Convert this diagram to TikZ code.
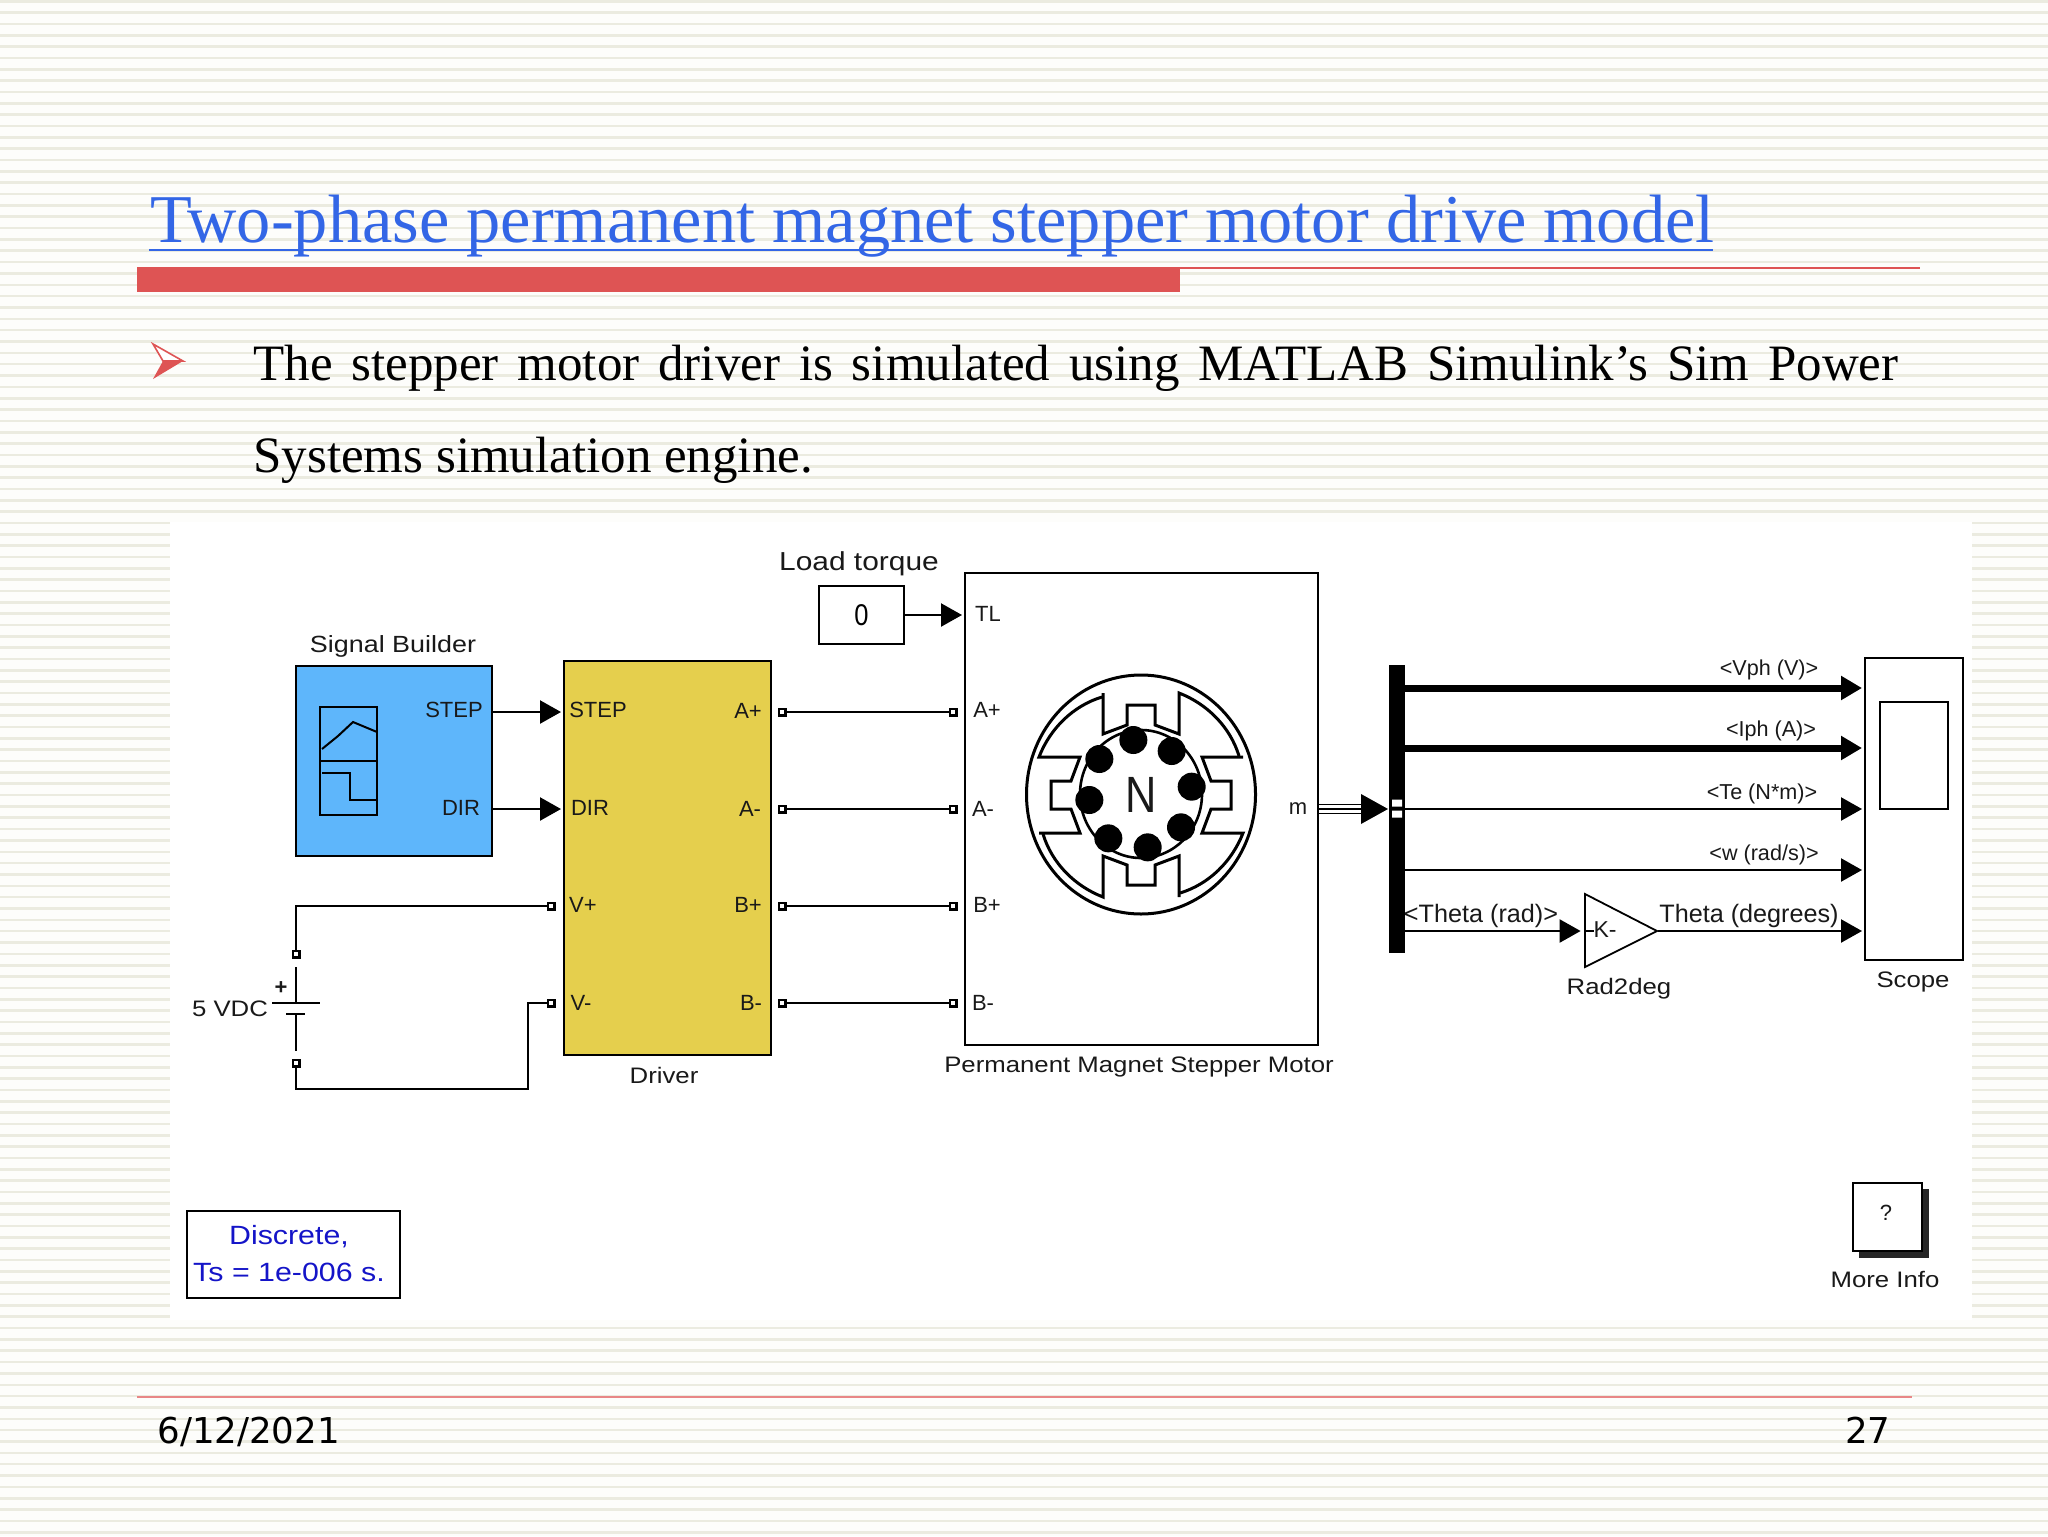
\documentclass[tikz,border=0pt]{standalone}
\usepackage{fontspec}
\usetikzlibrary{arrows.meta}
\setmainfont{Liberation Serif}
\newfontfamily\lab{Liberation Sans}
\newfontfamily\labw[FakeStretch=1.15]{Liberation Sans}
\newfontfamily\labn[FakeStretch=0.85]{Liberation Sans}
\newfontfamily\foot{DejaVu Sans}
\definecolor{stripe}{HTML}{EBEBE0}
\definecolor{paper}{HTML}{FDFDFB}
\definecolor{titleblue}{HTML}{3366E6}
\definecolor{barred}{HTML}{DE5454}
\definecolor{sbblue}{HTML}{5EB6FB}
\definecolor{drvyellow}{HTML}{E5CF4D}
\definecolor{discblue}{HTML}{1414C8}
\tikzset{
  block/.style={draw=black,line width=1.2pt,inner sep=0pt,fill=white},
  port/.style={draw=black,line width=1.1pt,fill=white,inner sep=0pt,minimum size=3.4pt},
  wire/.style={line width=1.15pt,black},
  sig/.style={wire,-{Triangle[length=10.5pt,width=11.5pt]},shorten >=1.5pt},
  bus/.style={line width=3.5pt,black,-{Triangle[length=10.5pt,width=11.5pt]},shorten >=1.5pt},
  txt/.style={inner sep=0pt,font=\lab\fontsize{11}{14}\selectfont,text=black!90},
  wtxt/.style={inner sep=0pt,font=\labw\fontsize{11.2}{14}\selectfont,text=black!90},
  sml/.style={inner sep=0pt,font=\lab\fontsize{10.8}{13}\selectfont,text=black!90},
  ltxt/.style={inner sep=0pt,font=\lab\fontsize{12.6}{14}\selectfont,text=black!90},
  foottxt/.style={inner sep=0pt,font=\foot\fontsize{17.8}{20}\selectfont,anchor=base,text=black},
  body/.style={inner sep=0pt,anchor=base west,font=\fontsize{25.5}{30}\selectfont},
}
\begin{document}
\begin{tikzpicture}[x=0.5pt,y=-0.5pt]
\useasboundingbox (0,0) rectangle (2048,1536);
\fill[paper] (0,0) rectangle (2048,1536);
\foreach \k in {0,...,135} {\fill[stripe] (0,{0+11.34*\k}) rectangle (2048,{2.6+11.34*\k});}
% diagram ground
\fill[white] (170,522) rectangle (1972,1320);
% title
\node[inner sep=0pt,anchor=base west,text=titleblue,font=\fontsize{34.2}{36}\selectfont] (title) at (150,242) {Two-phase permanent magnet stepper motor drive model};
\fill[titleblue] (149,248.5) rectangle (1713,251);
\fill[barred] (137,267) rectangle (1180,292);
\fill[barred] (1180,267) rectangle (1920,268.5);
% bullet
\fill[barred] (153,379) -- (183,361) -- (163,361) -- cycle;
\draw[barred,line width=0.8pt,fill=white] (153,344) -- (183,361) -- (163,361) -- cycle;
\node[body] (line1) at (253,380) {\makebox[822.5pt][s]{The stepper motor driver is simulated using MATLAB Simulink’s Sim Power}};
\node[body] (line2) at (253,472) {Systems simulation engine.};
% footer
\fill[barred!70] (137,1396) rectangle (1912,1397.5);
\node[foottxt,anchor=base west] (date) at (157,1443) {6/12/2021};
\node[foottxt,anchor=base east] (page) at (1891,1443) {27};
% blocks
\node[block,fill=sbblue,minimum width=98pt,minimum height=95pt] (sb) at (394,761) {};
\node[block,fill=drvyellow,minimum width=103.5pt,minimum height=197pt] (drv) at (667.5,858) {};
\node[block,minimum width=176.5pt,minimum height=236pt] (mot) at (1141.5,809) {};
\node[block,line width=1pt,minimum width=42.5pt,minimum height=29pt,font=\labn\fontsize{15}{16}\selectfont] (const) at (861.5,615) {0\hspace{3pt}};
\node[block,line width=1pt,minimum width=49pt,minimum height=151pt] (scope) at (1914,809) {};
\node[block,line width=1pt,minimum width=34pt,minimum height=53.5pt] (scr) at (1914,755.5) {};
\node[block,draw=black,minimum width=106.5pt,minimum height=43.5pt] (disc) at (293.5,1254.5) {};
\fill[black!85] (1859,1189) rectangle (1929,1258);
\node[block,line width=1pt,minimum width=34.5pt,minimum height=34pt] (help) at (1887.5,1217) {};
% signal builder icon
\draw[wire,line width=1.2pt] (320,707) rectangle (377,815) (320,761) -- (377,761);
\draw[wire,line width=1pt] (322,749) -- (338,736) -- (353,722) -- (377,732);
\draw[wire,line width=1pt] (322,773) -- (350,773) -- (350,800) -- (377,800);
% labels
\node[wtxt,font=\labw\fontsize{11.7}{14}\selectfont] (t1) at (393,646) {Signal Builder};
\node[txt] (t2) at (454,710) {STEP};
\node[txt] (t3) at (461,808) {DIR};
\node[txt] (t4) at (598,710) {STEP};
\node[txt] (t5) at (590,808) {DIR};
\node[txt] (t6) at (583,905) {V+};
\node[txt] (t7) at (581,1003) {V-};
\node[txt] (t8) at (748,711) {A+};
\node[txt] (t9) at (750,809) {A-};
\node[txt] (t10) at (748,905) {B+};
\node[txt] (t11) at (751,1003) {B-};
\node[wtxt] (t12) at (664,1075) {Driver};
\node[txt] (t13) at (988,614) {TL};
\node[txt] (t14) at (987,710) {A+};
\node[txt] (t15) at (983,809) {A-};
\node[txt] (t16) at (987,905) {B+};
\node[txt] (t17) at (983,1003) {B-};
\node[txt] (t18) at (1298,809) {m};
\node[wtxt] (t19) at (1139,1067) {Permanent Magnet Stepper Motor};
\node[wtxt,font=\labw\fontsize{13}{16}\selectfont] (t20) at (859,564) {Load torque};
\node[wtxt] (t21) at (230,1009) {5 VDC};
\node[txt,font=\lab\bfseries\fontsize{11}{12}\selectfont] (t22) at (281,988) {+};
\node[sml] (t23) at (1769,670) {<Vph (V)>};
\node[sml] (t24) at (1771,731) {<Iph (A)>};
\node[sml] (t25) at (1762,794) {<Te (N*m)>};
\node[sml] (t26) at (1764,855) {<w (rad/s)>};
\node[ltxt] (t27) at (1481,916) {<Theta (rad)>};
\node[ltxt] (t28) at (1749,916) {Theta (degrees)};
\node[wtxt] (t29) at (1619,989) {Rad2deg};
\node[wtxt] (t30) at (1913,982) {Scope};
\node[txt] (t31) at (1886,1213) {?};
\node[wtxt] (t32) at (1885,1279) {More Info};
\node[inner sep=0pt,align=center,text=discblue,font=\labw\fontsize{13.2}{18.5}\selectfont] (t33) at (289,1254) {Discrete,\\Ts = 1e-006 s.};
% wires: step and dir
\coordinate (sbS) at (492,712);
\coordinate (drS) at (564,712);
\coordinate (sbD) at (492,809);
\coordinate (drD) at (564,809);
\draw[sig] (sbS) -- (drS);
\draw[sig] (sbD) -- (drD);
% driver to motor
\foreach \n/\y in {a/712,b/809,c/906,d/1003} {
  \node[port] (dp\n) at (782,\y) {};
  \node[port] (mp\n) at (953,\y) {};
  \draw[wire] (dp\n) -- (mp\n);
}
% supply
\node[port] (vp) at (551,906) {};
\node[port] (vm) at (551,1003) {};
\node[port] (bt) at (296,954) {};
\node[port] (bb) at (296,1063) {};
\coordinate (plus) at (296,1003);
\coordinate (minus) at (296,1014);
\coordinate (cc) at (528,1089);
\draw[wire] (bt) |- (vp);
\draw[wire] (bb) |- (cc) |- (vm);
\draw[wire] (296,967) -- (plus);
\draw[wire] (minus) -- (296,1051);
\draw[wire] (272,1003) -- (320,1003);
\draw[wire] (286,1014) -- (305,1014);
% constant
\coordinate (mTL) at (965,615);
\draw[sig] (const) -- (mTL);
% motor icon
\draw[line width=1.5pt] (1141,794.5) ellipse [x radius=114.5,y radius=119.5];
\foreach \a in {0,90,180,270} {
\begin{scope}[shift={(1141,795)},rotate=\a]
\draw[line width=1.5pt,line join=miter] (-38,-102) -- (-38,-61) -- (-14,-70) -- (-14,-90) -- (14,-90) -- (14,-70) -- (38,-61) -- (38,-102)
  .. controls (66.4,-91) and (89.2,-68) .. (98,-39);
\end{scope}}
\draw[line width=1.3pt] (1141,794) ellipse [x radius=61,y radius=64];
\foreach \px/\py in {460/300,575/333,635/440,603/562,503/622,385/595,328/480,358/357} {
  \fill[black] ({980+\px/3},{640+\py/3}) circle (14);
}
\node[inner sep=0pt,font=\labn\fontsize{25.5}{27}\selectfont,text=black!90] (N) at (1141,795) {N};
% bus selector
\node[fill=black,inner sep=0pt,minimum width=8pt,minimum height=144pt] (bar) at (1397,809) {};
\fill[white] (1392,799.5) rectangle (1402,806.5) (1392,810.5) rectangle (1402,817.5);
\coordinate (mo) at (1318,809);
\coordinate (ba) at (1389,809);
\draw[line width=0.9pt] (1318,804.5) -- (1362,804.5) (1318,809) -- (1362,809) (1318,813.5) -- (1362,813.5);
\fill[black] (1361,794) -- (1388,809) -- (1361,824) -- cycle;
\coordinate (b1) at (1405,688); \coordinate (s1) at (1865,688);
\coordinate (b2) at (1405,748); \coordinate (s2) at (1865,748);
\coordinate (b3) at (1405,809); \coordinate (s3) at (1865,809);
\coordinate (b4) at (1405,870); \coordinate (s4) at (1865,870);
\coordinate (b5) at (1405,931); \coordinate (s5) at (1865,931);
\draw[bus] (b1) -- (s1);
\draw[bus] (b2) -- (s2);
\draw[sig] (b3) -- (s3);
\draw[sig] (b4) -- (s4);
% gain
\node[inner sep=0pt] (gainin) at (1585,931) {};
\node[inner sep=0pt] (gainout) at (1657,931) {};
\draw[wire,line width=0.9pt] (1585,894) -- (1657,931) -- (1585,967) -- cycle;
\draw[sig] (b5) -- (gainin);
\draw[sig] (gainout) -- (s5);
\draw[wire,line width=0.8pt] (gainin) -- (1594,931);
\node[txt,font=\lab\fontsize{11.5}{13}\selectfont] (K) at (1605,930) {K-};
\end{tikzpicture}
\end{document}
